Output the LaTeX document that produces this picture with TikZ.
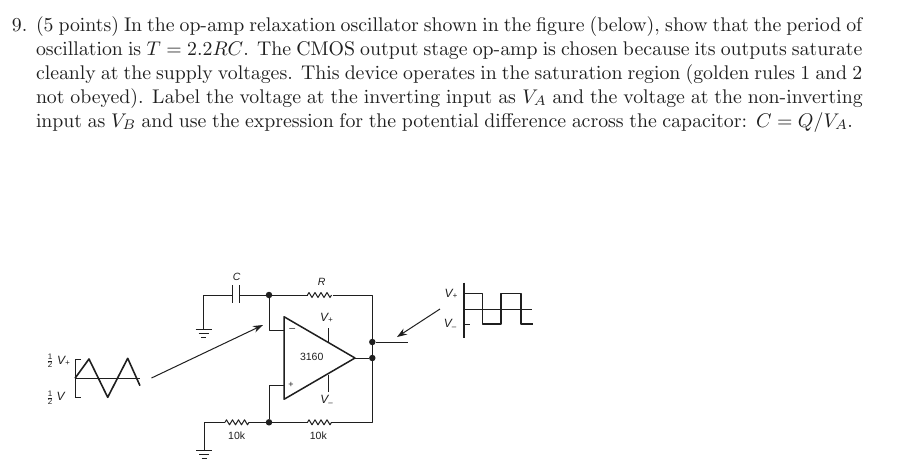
\documentclass[tikz,border=0pt]{standalone}
\usepackage[no-math]{fontspec}
\newfontfamily\lab{Liberation Sans}
\DeclareFontFamily{OT1}{qcm}{}
\DeclareFontShape{OT1}{qcm}{m}{n}{<-15>cmr7 <15->cmr10}{}
\DeclareFontShape{OML}{cmm}{m}{it}{<-15>cmmi7 <15->cmmi10}{}
\DeclareFontShape{OMS}{cmsy}{m}{n}{<-15>cmsy7 <15->cmsy10}{}
\DeclareFontShape{OT1}{cmr}{m}{n}{<-15>cmr7 <15->cmr10}{}
\DeclareMathSizes{19.8}{19.8}{13.86}{9.9}
\newcommand{\bodyfont}{\fontencoding{OT1}\fontfamily{qcm}\fontsize{19.8}{24}\selectfont}
\newcommand{\zigpath}{-- ++(1.5,-2.5) -- ++(3,5) -- ++(3,-5) -- ++(3,5) -- ++(3,-5) -- ++(3,5) -- ++(3,-5) -- ++(3,5) -- ++(1.5,-2.5)}
\newcommand{\halfmark}{$\frac{\hbox{\lab\fontsize{8}{8}\selectfont 1}}{\hbox{\lab\fontsize{8}{8}\selectfont 2}}$}
\definecolor{ink}{HTML}{1f1f1f}
\tikzset{
  txt/.style={inner sep=0pt,outer sep=0pt,anchor=base west,text=ink,font=\bodyfont},
  wire/.style={draw=ink,line width=1pt,line join=round},
  dot/.style={circle,fill=ink,inner sep=0pt,minimum size=6.5pt},
  lbl/.style={inner sep=0pt,text=ink,font=\lab\fontsize{10.5}{11}\selectfont},
  ilbl/.style={inner sep=0pt,text=ink,font=\lab\itshape\fontsize{12}{12}\selectfont},
  ptr/.style={draw=ink,line width=1pt,-{Stealth[length=10pt,width=7pt]}},
  plain line/.style={draw=ink,line width=0.9pt}
}
\usetikzlibrary{arrows.meta}
\begin{document}
\begin{tikzpicture}[x=1pt,y=-1pt]
\useasboundingbox (0,0) rectangle (914,467);
\node[txt] (num) at (12,31) {9.};
\node[txt] (l1) at (36,31) {\hbox to 827pt{(5 points) In the op-amp relaxation oscillator shown in the figure (below), show that the period of}};
\node[txt] (l2) at (36,55) {\hbox to 827pt{oscillation is $T=2.2RC$. The CMOS output stage op-amp is chosen because its outputs saturate}};
\node[txt] (l3) at (36,79) {\hbox to 827pt{cleanly at the supply voltages. This device operates in the saturation region (golden rules 1 and 2}};
\node[txt] (l4) at (36,103) {\hbox to 827pt{not obeyed). Label the voltage at the inverting input as $V_A$ and the voltage at the non-inverting}};
\node[txt] (l5) at (36,127) {\hbox to 817pt{input as $V_B$ and use the expression for the potential difference across the capacitor: $C=Q/V_A$.}};

% circuit points
\coordinate (gt) at (203.5,329.5);
\coordinate (gtop) at (203.5,295);
\coordinate (c1) at (232.7,295);
\coordinate (c2) at (239.3,295);
\node[dot] (ntop) at (269,295) {};
\coordinate (r1) at (307.5,295);
\coordinate (r2) at (332.5,295);
\coordinate (tr) at (372.3,295);
\node[dot] (nout1) at (372.3,342) {};
\node[dot] (nout2) at (372.3,358) {};
\coordinate (br) at (372.3,422.3);
\coordinate (r3) at (307.5,422.3);
\coordinate (r4) at (331,422.3);
\node[dot] (nbot) at (269,422.3) {};
\coordinate (r5) at (225,422.3);
\coordinate (r6) at (249,422.3);
\coordinate (gbot) at (204,422.3);
\coordinate (gb) at (204,450.5);
\coordinate (aA) at (284,316.7);
\coordinate (aB) at (284,399.3);
\coordinate (aT) at (355,358);
\coordinate (inm) at (284,330.3);
\coordinate (inp) at (284,385.7);
\coordinate (outend) at (408,342);

% op-amp
\draw[wire,line width=1.5pt] (aA) -- (aB) -- (aT) -- cycle;
\node[lbl] (amp) at (311.7,357.3) {3160};
\node[lbl] (minus) at (292.3,330.3) {–};
\node[lbl,font=\lab\fontsize{9}{9}\selectfont] (plus) at (291,384.7) {+};

% wires
\draw[wire] (gt) -- (gtop) -- (c1);
\draw[wire] (c2) -- (ntop) -- (r1);
\draw[wire,line width=1.3pt] (232.7,285) -- (232.7,302.7);
\draw[wire,line width=1.3pt] (239.3,285) -- (239.3,302.7);
\draw[wire] (r1) \zigpath;
\draw[wire] (r2) -- (tr) -- (nout1) -- (nout2) -- (br) -- (r4);
\draw[wire] (r3) \zigpath;
\draw[wire] (r3) -- (nbot) -- (r6);
\draw[wire] (r5) \zigpath;
\draw[wire] (r5) -- (gbot) -- (gb);
\draw[wire] (ntop) |- (inm);
\draw[wire] (nbot) |- (inp);
\draw[wire] (aT) -- (nout2);
\draw[wire] (nout1) -- (outend);
\draw[wire] (328.3,328) -- (328.3,341.5);
\draw[wire] (328.3,374.5) -- (328.3,391.7);

% grounds
\draw[wire] (195.5,329.5) -- (211.5,329.5) (198.5,333.5) -- (208.5,333.5) (201,337.5) -- (206,337.5);
\draw[wire] (196,450.5) -- (212,450.5) (199,454.5) -- (209,454.5) (201.5,458.5) -- (206.5,458.5);

% labels
\node[ilbl,font=\lab\itshape\fontsize{10.5}{11}\selectfont] (lc) at (236.7,276.5) {C};
\node[ilbl,font=\lab\itshape\fontsize{10.5}{11}\selectfont] (lr) at (321.7,281.5) {R};
\node[lbl] (lr5) at (236.7,435.7) {10k};
\node[lbl] (lr3) at (318.3,435.5) {10k};
\node[ilbl] (lvp) at (326.5,317.5) {V\raisebox{-1pt}{\fontsize{8}{8}\selectfont +}};
\node[ilbl] (lvm) at (326.5,400) {V\raisebox{-2pt}{\fontsize{8}{8}\selectfont –}};

% triangle wave
\draw[plain line] (80.7,359) -- (75,359) -- (75,397.7) -- (80.7,397.7);
\draw[plain line] (75,378.3) -- (140,378.3);
\draw[wire,line width=1.6pt] (75,378.3) -- (89,359) -- (107.7,397.3) -- (127.7,358.3) -- (140,385.7);
\node[lbl] (fa) at (50,361) {\halfmark};
\node[ilbl] (va) at (63.5,360.5) {V\raisebox{-1pt}{\fontsize{8}{8}\selectfont +}};
\node[lbl] (fb) at (50,398) {\halfmark};
\node[ilbl] (vb) at (60.7,396) {V};

% pointer arrows
\coordinate (p1s) at (151.5,378);
\coordinate (p1e) at (263,325);
\coordinate (p2s) at (440,309);
\coordinate (p2e) at (397,337);
\draw[ptr] (p1s) -- (p1e);
\draw[ptr] (p2s) -- (p2e);

% square wave
\draw[plain line,line width=1.1pt] (464,282.7) -- (464,338.3);
\draw[plain line] (464,309) -- (531.7,309);
\draw[plain line] (464,324) -- (470,324);
\draw[wire,line width=1.6pt] (464,293.3) -- (482.3,293.3) -- (482.3,324) -- (501,324) -- (501,293.3) -- (520.7,293.3) -- (520.7,324) -- (532.7,324);
\node[ilbl] (sp) at (451,294) {V\raisebox{-1pt}{\fontsize{8}{8}\selectfont +}};
\node[ilbl] (sm) at (450,324.5) {V\raisebox{-2pt}{\fontsize{8}{8}\selectfont –}};
\end{tikzpicture}
\end{document}
